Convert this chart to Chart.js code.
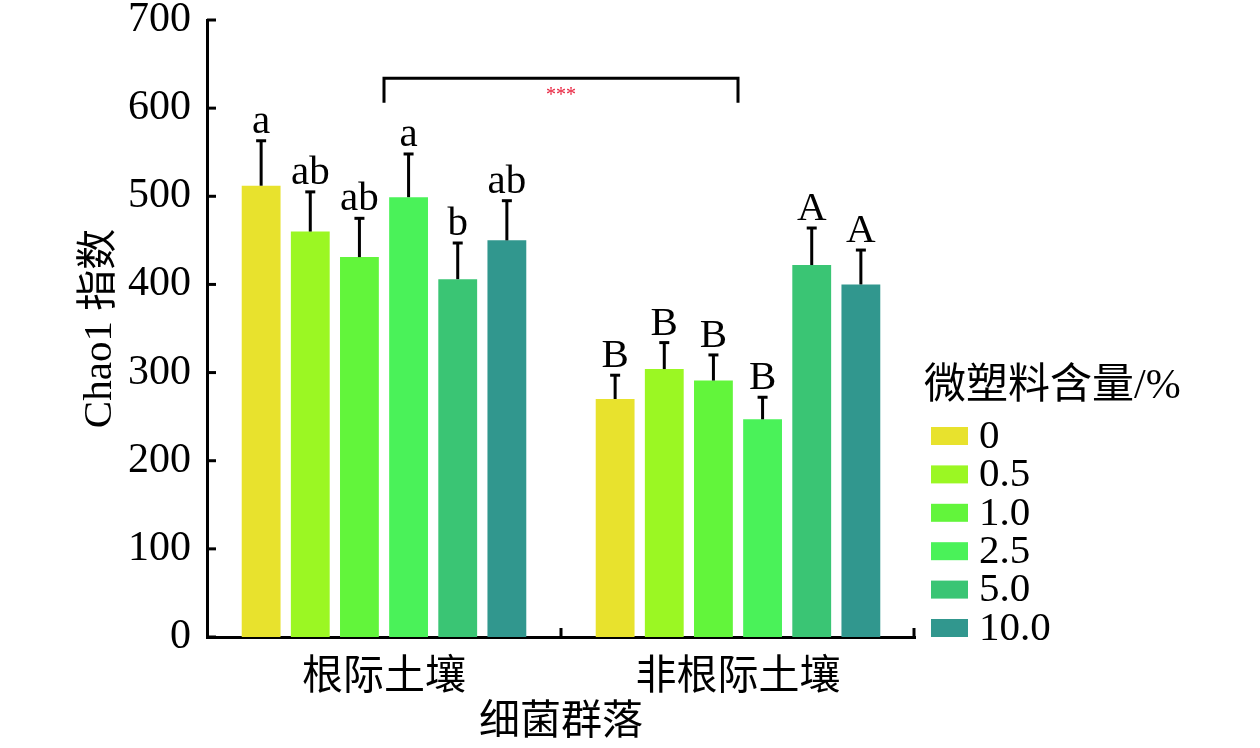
<!DOCTYPE html>
<html><head><meta charset="utf-8">
<script src="https://cdn.jsdelivr.net/npm/chart.js@4.4.0/dist/chart.umd.min.js"></script>
<style>html,body{margin:0;padding:0;background:#fff}#wrap{width:1260px;height:748px}</style>
</head><body><div id="wrap"><canvas id="c" width="1260" height="748"></canvas></div>
<script>
const categories = ['根际土壤', '非根际土壤'];
const seriesNames = ['0', '0.5', '1.0', '2.5', '5.0', '10.0'];
const mean_0   = [512, 270];
const mean_0_5 = [460, 304];
const mean_1_0 = [431, 291];
const mean_2_5 = [499, 247];
const mean_5_0 = [406, 422];
const mean_10_0 = [450, 400];
const sd_0   = [51, 27];
const sd_0_5 = [45, 30];
const sd_1_0 = [44, 29];
const sd_2_5 = [49, 25];
const sd_5_0 = [41, 42];
const sd_10_0 = [45, 39];
const letters_0   = ['a', 'B'];
const letters_0_5 = ['ab', 'B'];
const letters_1_0 = ['ab', 'B'];
const letters_2_5 = ['a', 'B'];
const letters_5_0 = ['b', 'A'];
const letters_10_0 = ['ab', 'A'];
const yTicks = [0, 100, 200, 300, 400, 500, 600, 700];
const sigLabel = '***';
const xTitle = '细菌群落';
const yTitle = 'Chao1 指数';
const legendTitle = '微塑料含量/%';

const colors = ['#E8E22D', '#9BF723', '#62F53B', '#4AF259', '#3AC574', '#31978E'];
const means = [mean_0, mean_0_5, mean_1_0, mean_2_5, mean_5_0, mean_10_0];
const sds = [sd_0, sd_0_5, sd_1_0, sd_2_5, sd_5_0, sd_10_0];
const letters = [letters_0, letters_0_5, letters_1_0, letters_2_5, letters_5_0, letters_10_0];

const FONT = "'Liberation Serif', 'Noto Sans CJK SC', serif";

const overlay = {
  id: 'overlay',
  afterDraw(chart) {
    const ctx = chart.ctx;
    const xs = chart.scales.x, ys = chart.scales.y;
    const area = chart.chartArea;
    ctx.save();
    ctx.strokeStyle = '#000';
    ctx.fillStyle = '#000';
    ctx.lineWidth = 3;
    yTicks.forEach(v => {
      const py = ys.getPixelForValue(v);
      ctx.beginPath(); ctx.moveTo(area.left, py); ctx.lineTo(area.left + 9, py); ctx.stroke();
    });
    const p0 = xs.getPixelForValue(0), p1 = xs.getPixelForValue(1);
    [(p0 + p1) / 2, area.right - 1].forEach(px => {
      ctx.beginPath(); ctx.moveTo(px, area.bottom); ctx.lineTo(px, area.bottom - 9); ctx.stroke();
    });
    ctx.font = '41px ' + FONT;
    ctx.textAlign = 'center';
    ctx.textBaseline = 'alphabetic';
    chart.data.datasets.forEach((ds, di) => {
      const meta = chart.getDatasetMeta(di);
      meta.data.forEach((el, i) => {
        const top = ys.getPixelForValue(means[di][i] + sds[di][i]);
        ctx.lineWidth = 3;
        ctx.beginPath(); ctx.moveTo(el.x, el.y); ctx.lineTo(el.x, top); ctx.stroke();
        ctx.beginPath(); ctx.moveTo(el.x - 5, top); ctx.lineTo(el.x + 5, top); ctx.stroke();
        ctx.fillText(letters[di][i], el.x, top - 8);
      });
    });
    const by = ys.getPixelForValue(634), bl = ys.getPixelForValue(606);
    ctx.lineWidth = 3;
    ctx.beginPath();
    ctx.moveTo(p0, bl); ctx.lineTo(p0, by); ctx.lineTo(p1, by); ctx.lineTo(p1, bl);
    ctx.stroke();
    ctx.fillStyle = '#E8203C';
    ctx.font = '20px ' + FONT;
    ctx.fillText(sigLabel, (p0 + p1) / 2, by + 23);
    ctx.fillStyle = '#000';
    ctx.textAlign = 'left';
    ctx.textBaseline = 'middle';
    ctx.font = '42px ' + FONT;
    ctx.fillText(legendTitle, area.right + 9, 387);
    ctx.font = '41px ' + FONT;
    seriesNames.forEach((n, k) => {
      const cy = 436 + k * 38.4;
      ctx.fillStyle = colors[k];
      ctx.fillRect(area.right + 16, cy - 9, 37, 18);
      ctx.fillStyle = '#000';
      ctx.fillText(n, area.right + 64, cy + 1);
    });
    ctx.restore();
  }
};

new Chart(document.getElementById('c'), {
  type: 'bar',
  data: {
    labels: categories,
    datasets: seriesNames.map((n, k) => ({
      label: n,
      data: means[k],
      backgroundColor: colors[k],
      borderWidth: 0,
      categoryPercentage: 0.833,
      barPercentage: 0.79
    }))
  },
  options: {
    responsive: false,
    animation: false,
    devicePixelRatio: 1,
    layout: { padding: { left: 0, right: 345, top: 20, bottom: 0 } },
    plugins: { legend: { display: false }, tooltip: { enabled: false } },
    scales: {
      x: {
        grid: { display: false, drawTicks: false },
        border: { display: true, color: '#000', width: 3 },
        ticks: { color: '#000', font: { family: FONT, size: 41 }, padding: 17 },
        title: { display: true, text: xTitle, color: '#000', font: { family: FONT, size: 41 }, padding: { top: 0, bottom: 0 } },
        afterFit(s) { s.height = 111; s.paddingLeft = 0; s.paddingRight = 0; }
      },
      y: {
        min: 0, max: 700,
        afterBuildTicks(s) { s.ticks = yTicks.map(v => ({ value: v })); },
        grid: { display: false, drawTicks: false },
        border: { display: true, color: '#000', width: 3 },
        ticks: { color: '#000', font: { family: FONT, size: 42, lineHeight: 1 }, padding: 16 },
        title: { display: true, text: yTitle, color: '#000', font: { family: FONT, size: 41 }, padding: { top: 76, bottom: 0 } },
        afterFit(s) { s.width = 207; s.paddingTop = 0; s.paddingBottom = 0; }
      }
    }
  },
  plugins: [overlay]
});
</script></body></html>
